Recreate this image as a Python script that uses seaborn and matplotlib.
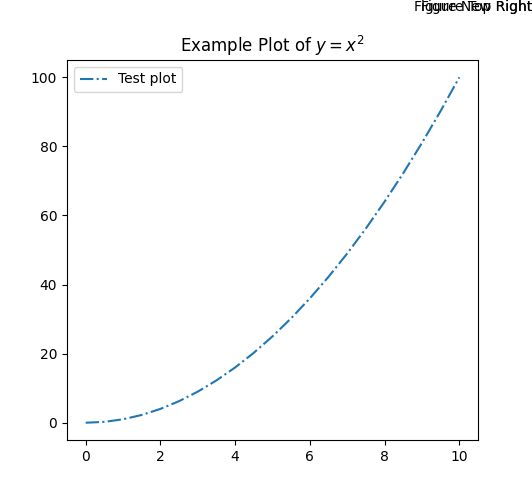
import matplotlib
matplotlib.use("Agg")
import matplotlib.pyplot as plt
import seaborn as sns

x_values = [0, 0.5, 1, 1.5, 2, 2.5, 3, 3.5, 4, 4.5, 5, 5.5, 6, 6.5, 7, 7.5, 8, 8.5, 9, 9.5, 10]
y_values = [0, 0.25, 1, 2.25, 4, 6.25, 9, 12.25, 16, 20.25, 25, 30.25, 36, 42.25, 49, 56.25, 64, 72.25, 81, 90.25, 100]

plt.style.use("default")
fig = plt.figure(figsize=(5.32, 4.96), dpi=100)
ax = fig.add_axes([67/532, 1-440/496, (478-67)/532, (440-60)/496])
sns.lineplot(x=x_values, y=y_values, ax=ax, linestyle="-.", label="Test plot", color="#1f77b4")
ax.set_title("Example Plot of $y = x^2$")
ax.legend(loc="upper left")
fig.text(1, 1, "Figure Top Right", ha="right", va="top")
fig.text(1, 1, "Figure New Right", ha="right", va="top")
fig.savefig("out.png", dpi=100)
